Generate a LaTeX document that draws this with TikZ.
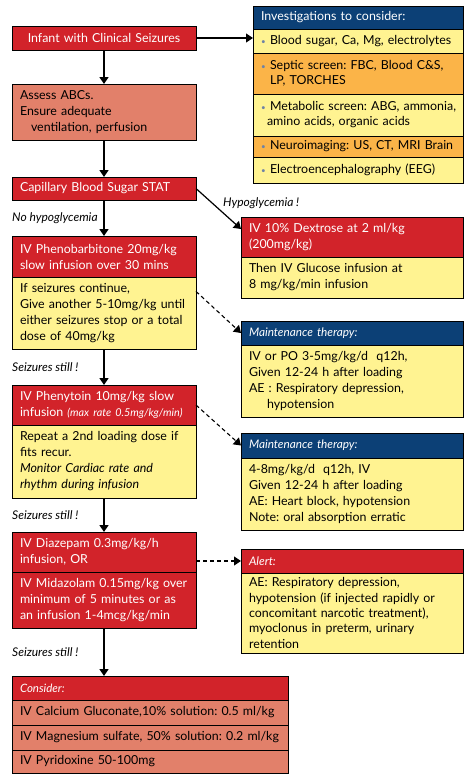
\documentclass[tikz,border=0pt]{standalone}
\usepackage{fontspec}
\setmainfont{Lato}
\usetikzlibrary{arrows.meta,calc}
\definecolor{cred}{RGB}{210,35,42}
\definecolor{csalmon}{RGB}{226,128,106}
\definecolor{cyellow}{RGB}{255,243,145}
\definecolor{corange}{RGB}{251,180,72}
\definecolor{cnavy}{RGB}{12,64,118}
\definecolor{cbullet}{RGB}{110,130,165}
\newcommand\bul{\makebox[9pt][l]{\color{cbullet}\footnotesize\textbullet}}
\newcommand\hang{\hspace*{9pt}}
\frenchspacing
\begin{document}
\frenchspacing
\begin{tikzpicture}[x=1pt,y=-1pt,
  box/.style={draw=black, line width=0.8pt, anchor=north west, inner xsep=8pt, inner ysep=0pt, outer sep=0pt, align=left, font=\fontsize{12.4}{16}\selectfont},
  redbox/.style={box, fill=cred, text=white},
  salbox/.style={box, fill=csalmon, text=black},
  yelbox/.style={box, fill=cyellow, text=black},
  orgbox/.style={box, fill=corange, text=black},
  navbox/.style={box, fill=cnavy, text=white},
  lw/.style={text width=168pt},
  rw/.style={text width=194pt},
  dw/.style={text width=206pt},
  cw/.style={text width=260pt},
  lbl/.style={anchor=west, inner sep=0pt, font=\fontsize{12}{14}\selectfont\itshape},
  arr/.style={line width=1.4pt, -{Triangle[length=7pt,width=9pt]}},
  darr/.style={line width=1.1pt, dashed, dash pattern=on 4pt off 3pt, -{Triangle[length=7pt,width=9pt]}}
]
\useasboundingbox[fill=white] (0,0) rectangle (472,782);

% left column
\node[redbox, lw, minimum height=24pt, align=center] (infant) at (12,26) {Infant with Clinical Seizures};
\node[salbox, lw, minimum height=56pt] (assess) at (12,84) {Assess ABCs.\\Ensure adequate\\\hspace*{11pt}ventilation, perfusion};
\node[redbox, lw, minimum height=23pt] (cap) at (12,177) {Capillary Blood Sugar STAT};
\node[redbox, lw, minimum height=41pt] (phenoH) at (12,236) {\mbox{IV Phenobarbitone 20mg/kg}\\\mbox{slow infusion over 30 mins}};
\node[yelbox, lw, minimum height=72pt] (phenoB) at (12,277) {If seizures continue,\\\mbox{Give another 5-10mg/kg until}\\\mbox{either seizures stop or a total}\\dose of 40mg/kg};
\node[redbox, lw, minimum height=40pt] (phenyH) at (12,385) {\mbox{IV Phenytoin 10mg/kg slow}\\\mbox{infusion {\fontsize{10.8}{16}\selectfont\itshape(max rate 0.5mg/kg/min)}}};
\node[yelbox, lw, minimum height=73pt] (phenyB) at (12,425) {\mbox{Repeat a 2nd loading dose if}\\fits recur.\\\textit{Monitor Cardiac rate and}\\\textit{rhythm during infusion}};
\node[redbox, lw, minimum height=40pt] (diazH) at (12,532) {IV Diazepam 0.3mg/kg/h\\infusion, OR};
\node[redbox, lw, minimum height=56pt] (midaz) at (12,572) {\mbox{IV Midazolam 0.15mg/kg over}\\\mbox{minimum of 5 minutes or as}\\\mbox{an infusion 1-4mcg/kg/min}};

% consider box
\node[redbox, cw, minimum height=24pt, font=\fontsize{11.5}{14}\selectfont\itshape] (conH) at (12,676) {Consider:};
\node[salbox, cw, minimum height=25pt] (con1) at (12,700) {\mbox{IV Calcium Gluconate,10\% solution: 0.5 ml/kg}};
\node[salbox, cw, minimum height=25pt] (con2) at (12,725) {\mbox{IV Magnesium sulfate, 50\% solution: 0.2 ml/kg}};
\node[salbox, cw, minimum height=23pt] (con3) at (12,750) {IV Pyridoxine 50-100mg};

% labels
\node[lbl] (lnohypo) at (12,218) {No hypoglycemia};
\node[lbl] (lstill1) at (12,367) {Seizures still !};
\node[lbl] (lstill2) at (12,515) {Seizures still !};
\node[lbl] (lstill3) at (12,652) {Seizures still !};
\node[lbl] (lhypo) at (223,203) {Hypoglycemia !};

% investigations
\node[navbox, rw, minimum height=23pt] (inv0) at (253,6) {Investigations to consider:};
\node[yelbox, rw, minimum height=24pt, font=\fontsize{12.4}{15}\selectfont] (inv1) at (253,29) {\mbox{\bul Blood sugar, Ca, Mg, electrolytes}};
\node[orgbox, rw, minimum height=41pt, font=\fontsize{12.4}{15}\selectfont] (inv2) at (253,53) {\mbox{\bul Septic screen: FBC, Blood C\&S,}\\\hang LP, TORCHES};
\node[yelbox, rw, minimum height=42pt, font=\fontsize{12.4}{15}\selectfont] (inv3) at (253,94) {\mbox{\bul Metabolic screen: ABG, ammonia,}\\\hspace*{6pt}amino acids, organic acids};
\node[orgbox, rw, minimum height=21pt, font=\fontsize{12.4}{15}\selectfont] (inv4) at (253,136) {\mbox{\bul Neuroimaging: US, CT, MRI Brain}};
\node[yelbox, rw, minimum height=26pt, font=\fontsize{12.4}{15}\selectfont] (inv5) at (253,157) {\mbox{\bul Electroencephalography (EEG)}};

% dextrose
\node[redbox, dw, minimum height=40pt] (dextH) at (241,217) {IV 10\% Dextrose at 2 ml/kg\\(200mg/kg)};
\node[yelbox, dw, minimum height=41pt] (dextB) at (241,257) {Then IV Glucose infusion at\\8 mg/kg/min infusion};

% maintenance 1
\node[navbox, dw, minimum height=24pt, font=\fontsize{11.8}{14}\selectfont\itshape] (m1H) at (241,321) {Maintenance therapy:};
\node[yelbox, dw, minimum height=72pt] (m1B) at (241,345) {IV or PO 3-5mg/kg/d\ \ q12h,\\Given 12-24 h after loading\\AE : Respiratory depression,\\\hspace*{18pt}hypotension};

% maintenance 2
\node[navbox, dw, minimum height=25pt, font=\fontsize{11.8}{14}\selectfont\itshape] (m2H) at (241,433) {Maintenance therapy:};
\node[yelbox, dw, minimum height=72pt] (m2B) at (241,458) {4-8mg/kg/d\ \ q12h, IV\\Given 12-24 h after loading\\AE: Heart block, hypotension\\Note: oral absorption erratic};

% alert
\node[redbox, dw, minimum height=24pt, font=\fontsize{11.8}{14}\selectfont\itshape] (aH) at (241,549) {Alert:};
\node[yelbox, dw, minimum height=80pt, font=\fontsize{12.4}{15.3}\selectfont] (aB) at (241,573) {AE: Respiratory depression,\\\mbox{hypotension (if injected rapidly or}\\\mbox{concomitant narcotic treatment),}\\myoclonus in preterm, urinary\\retention};

% main flow arrows
\draw[arr] (infant) -- (assess);
\draw[arr] (assess) -- (cap);
\draw[arr] (cap) -- (phenoH);
\draw[arr] (phenoB) -- (phenyH);
\draw[arr] (phenyB) -- (diazH);
\draw[arr] (midaz.south) -- (midaz.south |- conH.north);

% side arrows
\draw[arr, line width=1.2pt] (infant.east) -- (infant.east -| inv1.west);
\draw[arr, line width=1.2pt] (cap.east) -- ($(dextH.north west)!0.3!(dextH.south west)$);
\draw[darr] ($(phenoB.north east)!0.2!(phenoB.south east)$) -- (m1H.west);
\draw[darr] (phenyH.east) -- (m2H.west);
\draw[darr] (aH.west -| diazH.east) -- (aH.west);
\end{tikzpicture}
\end{document}
